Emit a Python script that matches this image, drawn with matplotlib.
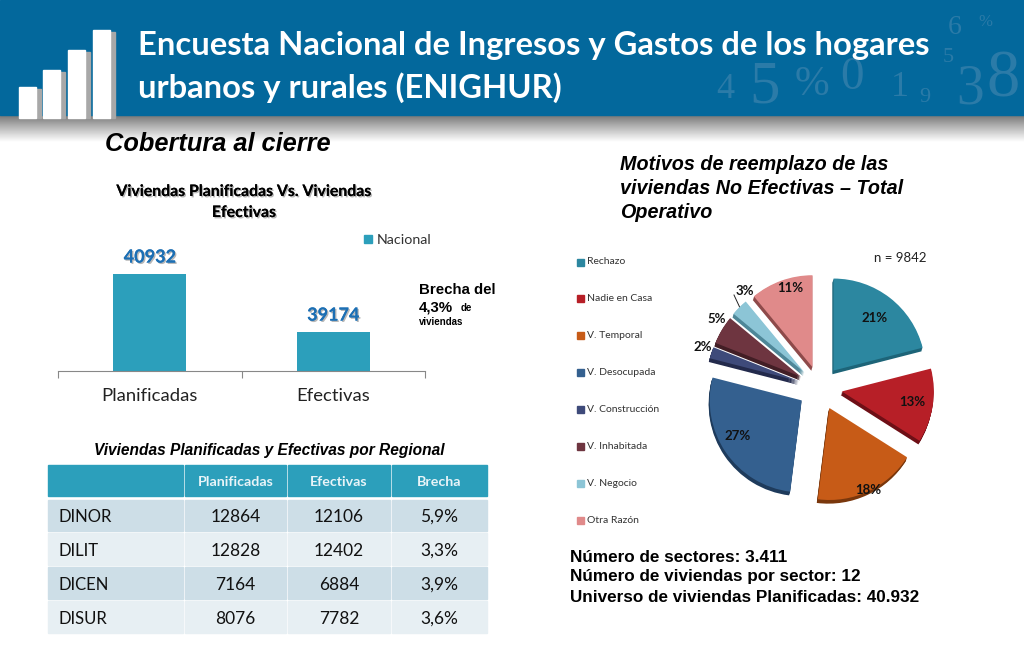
import matplotlib
matplotlib.use('Agg')
import matplotlib.pyplot as plt
import matplotlib.patheffects as pe
from matplotlib.patches import Rectangle
import numpy as np

plt.rcParams['font.family'] = ['Liberation Sans', 'DejaVu Sans']

# bar chart
bar_labels = ["Planificadas", "Efectivas"]
bar_values = [40932, 39174]

# pie chart
pie_labels = ["Rechazo", "Nadie en Casa", "V. Temporal", "V. Desocupada",
              "V. Construcción", "V. Inhabitada", "V. Negocio", "Otra Razón"]
pie_values = [21, 13, 18, 27, 2, 5, 3, 11]
pie_colors = ["#2C87A0", "#B71F27", "#C75B17", "#34608F",
              "#3E4A7A", "#6E3540", "#8CC5D6", "#E08A8A"]
pie_dark = ["#1D6478", "#6E0F16", "#7A370C", "#1E3B5C",
            "#232A4C", "#421E25", "#4E8798", "#8E4A4A"]

# table
table_cols = ["", "Planificadas", "Efectivas", "Brecha"]
regions = ["DINOR", "DILIT", "DICEN", "DISUR"]
planificadas = [12864, 12828, 7164, 8076]
efectivas = [12106, 12402, 6884, 7782]
brecha = ["5,9%", "3,3%", "3,9%", "3,6%"]

W, H = 1024, 645
TEAL = "#2C9FBB"
LATO = ['Lato', 'DejaVu Sans']

fig = plt.figure(figsize=(W / 100, H / 100), dpi=100, facecolor="white")

# overlay in pixel coordinates, y going down
bg = fig.add_axes([0, 0, 1, 1], zorder=0)
bg.set_xlim(0, W)
bg.set_ylim(H, 0)
bg.axis("off")


def axes_px(x0, y0, x1, y1, **kw):
    return fig.add_axes([x0 / W, 1 - y1 / H, (x1 - x0) / W, (y1 - y0) / H], **kw)


# header band and its shadow
grad = np.linspace(0.38, 1, 64).reshape(-1, 1) ** 0.8
bg.imshow(grad, extent=(0, W, 142, 115), cmap="gray", vmin=0, vmax=1,
          aspect="auto", zorder=1)
bg.set_xlim(0, W)
bg.set_ylim(H, 0)
bg.add_patch(Rectangle((0, 0), W, 115, color="#03689C", zorder=2))

# faint digits on the right of the header
for dx, dy, s, fs in [(725, 90, "4", 26), (765, 88, "5", 44), (812, 85, "%", 30),
                      (852, 78, "0", 34), (900, 88, "1", 26), (925, 98, "9", 16),
                      (948, 58, "5", 16), (970, 90, "3", 40), (1003, 80, "8", 48),
                      (955, 28, "6", 20), (985, 22, "%", 12)]:
    bg.text(dx, dy, s, fontsize=fs, color="#2B7BA8", ha="center", va="center",
            family="Liberation Serif", zorder=3)

# icon of growing bars
for x0, top in [(19, 87), (43, 70), (68, 50), (93, 30)]:
    bg.add_patch(Rectangle((x0 + 17, top + 2), 5, 118 - top - 2, color="#A8A8A8", zorder=4))
    bg.add_patch(Rectangle((x0, top), 17, 118 - top, color="white", zorder=5))

bg.text(138, 45, "Encuesta Nacional de Ingresos y Gastos de los hogares", color="white",
        fontsize=23.6, fontweight="bold", family=LATO, va="center", zorder=6)
bg.text(138, 88, "urbanos y rurales (ENIGHUR)", color="white",
        fontsize=23.6, fontweight="bold", family=LATO, va="center", zorder=6)

bg.text(105, 144, "Cobertura al cierre", fontsize=18.3, fontweight="bold",
        style="italic", va="center", zorder=6)
for i, s in enumerate(["Motivos de reemplazo de las", "viviendas No Efectivas – Total", "Operativo"]):
    bg.text(620, 165 + 24 * i, s, fontsize=14.2, fontweight="bold", style="italic", va="center")

# bars
bar_ax = axes_px(58, 200, 425, 371)
x = np.arange(len(bar_values))
rects = bar_ax.bar(x, bar_values, width=0.4, color=TEAL)
bar_ax.set_xlim(-0.5, 1.5)
bar_ax.set_ylim(37990, 43170)
bar_ax.patch.set_alpha(0)
for s in ["top", "left", "right"]:
    bar_ax.spines[s].set_visible(False)
bar_ax.spines["bottom"].set_color("#888888")
bar_ax.set_yticks([])
bar_ax.set_xticks([-0.5, 0.5, 1.5], labels=[])
bar_ax.tick_params(axis="x", direction="out", length=5, color="#888888")
bar_ax.set_xticks(x, labels=bar_labels, minor=True, family=LATO, fontsize=13.3, color="#222222")
bar_ax.tick_params(axis="x", which="minor", length=0, pad=12.5)
text_shadow = [pe.withSimplePatchShadow(offset=(1, -1), shadow_rgbFace="#888888", alpha=0.6),
               pe.Normal()]
for rect, v in zip(rects, bar_values):
    t = bar_ax.annotate(str(v), (rect.get_x() + rect.get_width() / 2, v), xytext=(0, 6),
                        textcoords="offset points", ha="center", va="bottom", fontsize=13,
                        fontweight="bold", color="#1C6FB4", family=LATO)
    t.set_path_effects(text_shadow)

for y, s in [(192, "Viviendas Planificadas Vs. Viviendas"), (213, "Efectivas")]:
    t = bg.text(244, y, s, fontsize=11.4, fontweight="bold", family=LATO, ha="center", va="center")
    t.set_path_effects(text_shadow)

bg.add_patch(Rectangle((364, 235), 8, 8, color=TEAL))
bg.text(377, 240, "Nacional", fontsize=10.3, family=LATO, color="#333333", va="center")

bg.text(419, 290, "Brecha del", fontsize=10.8, fontweight="bold", va="center")
bg.text(419, 308, "4,3%", fontsize=10.8, fontweight="bold", va="center")
bg.text(461, 308, "de", fontsize=7, fontweight="bold", va="center")
bg.text(419, 322, "viviendas", fontsize=7, fontweight="bold", va="center")

# table
bg.text(269, 450, "Viviendas Planificadas y Efectivas por Regional", fontsize=11.2,
        fontweight="bold", style="italic", ha="center", va="center")
col_edges = [(48, 183), (185, 286), (288, 390), (392, 487)]
row_edges = [(500, 531), (533, 565), (567, 599), (601, 633)]
row_colors = ["#CDDEE7", "#E7EFF3", "#CDDEE7", "#E7EFF3"]
for (x0, x1), name in zip(col_edges, table_cols):
    bg.add_patch(Rectangle((x0, 465), x1 - x0, 31, color=TEAL))
    bg.text((x0 + x1) / 2, 482, name, fontsize=10.3, fontweight="bold", family=LATO,
            color="#E8F4F8", ha="center", va="center")
for i, (y0, y1) in enumerate(row_edges):
    row = [regions[i], planificadas[i], efectivas[i], brecha[i]]
    for j, (x0, x1) in enumerate(col_edges):
        bg.add_patch(Rectangle((x0, y0), x1 - x0, y1 - y0, color=row_colors[i]))
        if j == 0:
            bg.text(x0 + 11, (y0 + y1) / 2 + 1.5, str(row[j]), fontsize=12, family=LATO,
                    color="#111111", va="center")
        else:
            bg.text((x0 + x1) / 2, (y0 + y1) / 2 + 1.5, str(row[j]), fontsize=12.5, family=LATO,
                    color="#111111", ha="center", va="center")

# pie: one dark pie a little lower gives the thickness
PIE_R = 92
SPAN = 1.7
pie_ax = axes_px(820 - SPAN * PIE_R, 388 - SPAN * PIE_R, 820 + SPAN * PIE_R, 388 + SPAN * PIE_R, zorder=2)
explode = [0.24] * len(pie_values)
for k in range(4, 0, -1):
    pie_ax.pie(pie_values, colors=pie_dark, explode=explode, startangle=90, counterclock=False,
               center=(-0.003 * k, -0.01 * k))
pie_ax.pie(pie_values, colors=pie_colors, explode=explode, startangle=90, counterclock=False)
pie_ax.set_xlim(-SPAN, SPAN)
pie_ax.set_ylim(-SPAN, SPAN)

pie_text_pos = [(875, 318), (912, 402), (868, 490), (738, 436),
                (703, 347), (717, 319), (745, 291), (790, 288)]
for (px, py), v in zip(pie_text_pos, pie_values):
    pie_ax.annotate(f"{v}%", (px / W, 1 - py / H), xycoords="figure fraction", fontsize=9.5,
                    fontweight="bold", family=LATO, color="#111111", ha="center", va="center",
                    zorder=10)
bg.plot([734, 741], [295, 310], color="#222222", lw=0.7, zorder=1)

for i, name in enumerate(pie_labels):
    y = 262 + 36.9 * i
    bg.add_patch(Rectangle((577, y - 3.5), 7, 7, color=pie_colors[i]))
    bg.text(587, y, name, fontsize=7.5, family=LATO, color="#333333", va="center")
bg.text(900, 257.5, "n = 9842", fontsize=9.5, family=LATO, color="#222222", ha="center", va="center")

for y, s in [(557, "Número de sectores: 3.411"), (577, "Número de viviendas por sector: 12"),
             (598, "Universo de viviendas Planificadas: 40.932")]:
    bg.text(570, y, s, fontsize=12.3, fontweight="bold", va="center")

fig.savefig("out.png", dpi=100, facecolor="white")
